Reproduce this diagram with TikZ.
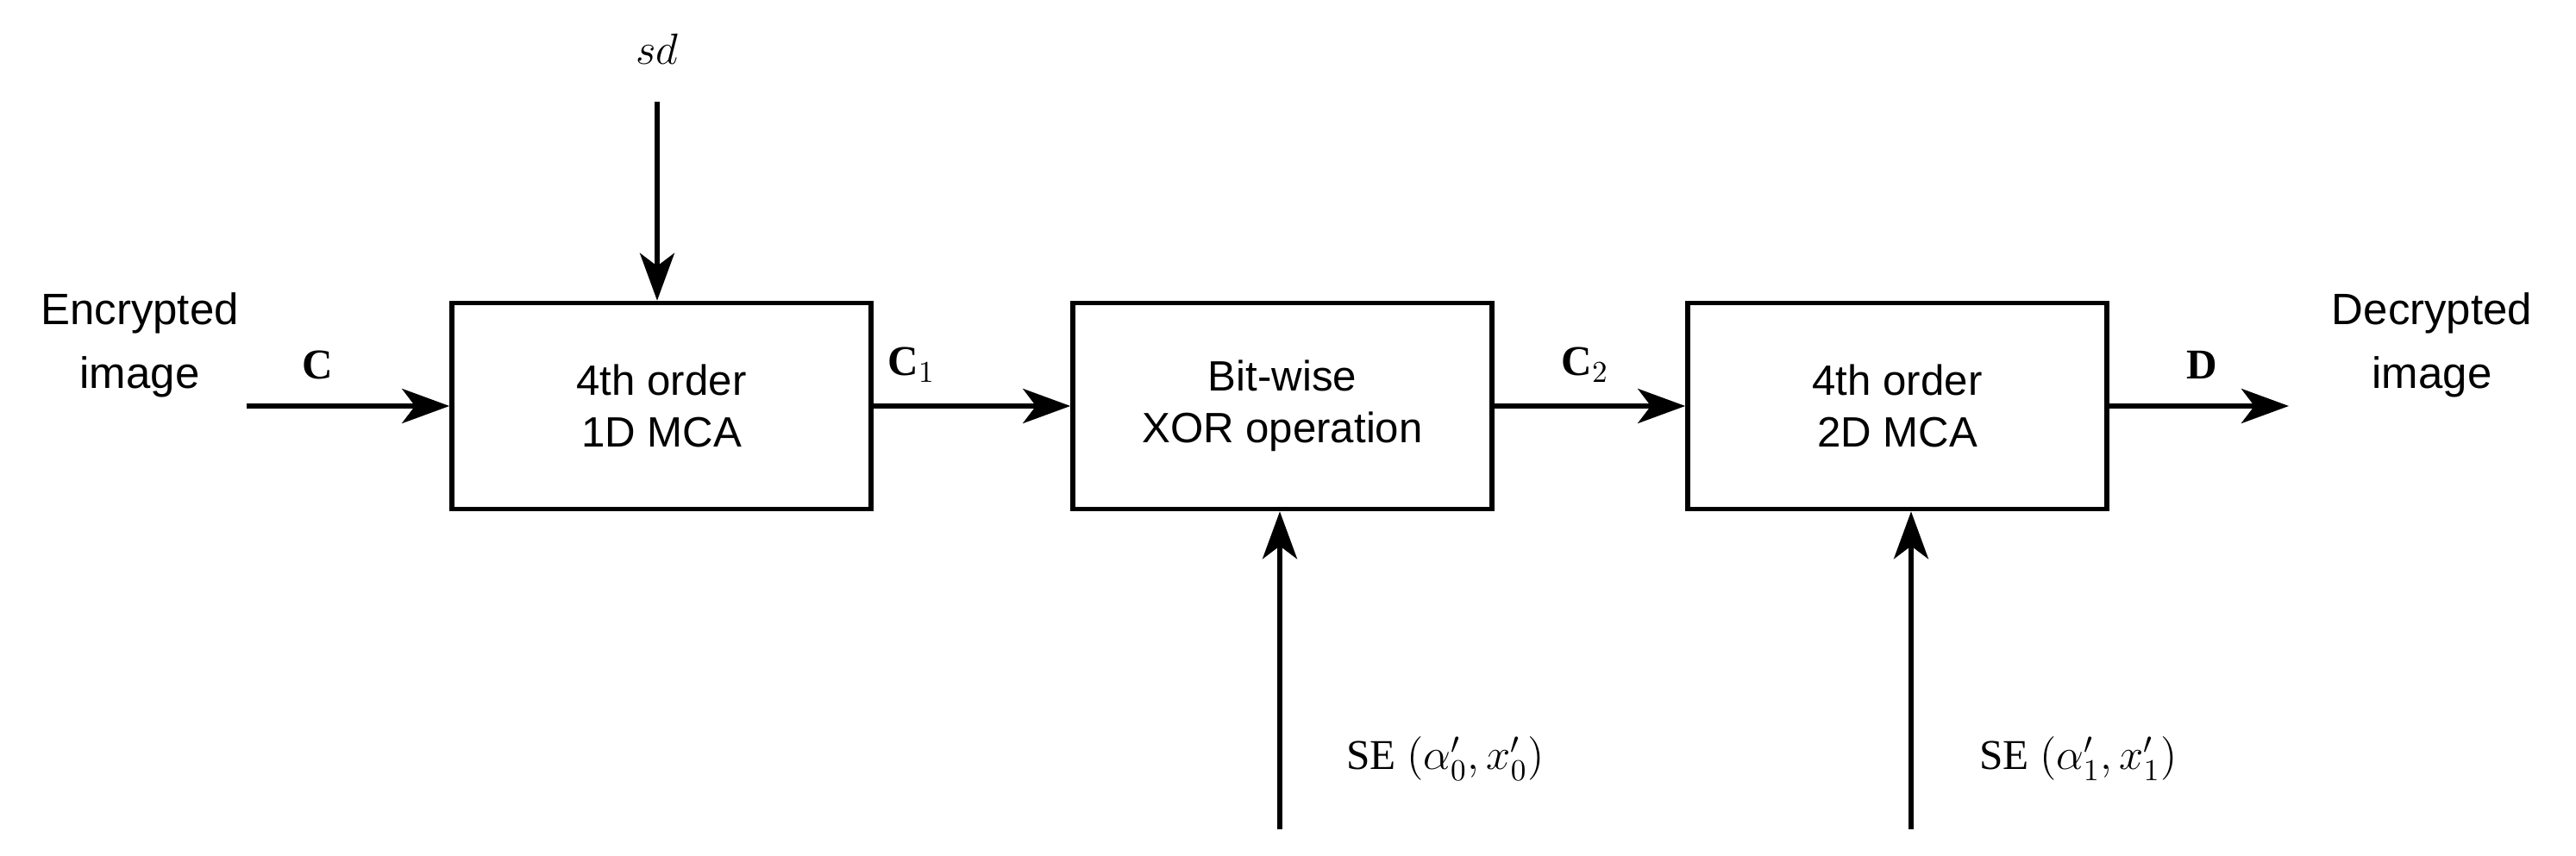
\documentclass[tikz,border=0pt]{standalone}
\usepackage{fontspec}
\setmainfont{Liberation Serif}
\newfontfamily\boxfont{Liberation Sans}
\usetikzlibrary{arrows.meta,positioning}
\tikzset{
	block/.style={draw, line width=1.6pt, minimum width=4.86cm, minimum height=2.39cm,
		align=center, font=\boxfont\fontsize{14}{17}\selectfont},
	flow/.style={line width=1.6pt, -{Stealth[length=5.5mm, width=4mm, inset=1.5mm]}},
	side/.style={align=center, font=\boxfont\fontsize{14.5}{21}\selectfont},
	lbl/.style={font=\fontsize{14}{16}\selectfont}
}
\begin{document}
\begin{tikzpicture}
	\useasboundingbox (0,0) rectangle (29.87,9.93);
	\node[block] (mca1) at (7.67,5.22) {4th order\\1D MCA};
	\node[block] (xor) at (14.87,5.22) {Bit-wise\\XOR operation};
	\node[block] (mca2) at (22.00,5.22) {4th order\\2D MCA};

	\node[side] (enc) at (1.62,5.93) {Encrypted\\image};
	\node[side] (dec) at (28.20,5.93) {Decrypted\\image};
	\coordinate (cin) at (2.86,5.22);
	\coordinate (cout) at (26.54,5.22);

	\node[lbl] (sd) at (7.62,9.36) {$sd$};
	\coordinate (sdtop) at (7.62,8.75);
	\coordinate (se0bot) at (14.84,0.31);
	\coordinate (se1bot) at (22.16,0.31);

	\draw[flow] (cin) -- (mca1);
	\draw[flow] (mca1) -- (xor);
	\draw[flow] (xor) -- (mca2);
	\draw[flow] (mca2) -- (cout);
	\draw[flow] (sdtop) -- (sdtop |- mca1.north);
	\draw[flow] (se0bot) -- (se0bot |- xor.south);
	\draw[flow] (se1bot) -- (se1bot |- mca2.south);

	\node[lbl] (c) at (3.68,5.70) {$\mathbf{C}$};
	\node[lbl] (c1) at (10.57,5.70) {$\mathbf{C}_1$};
	\node[lbl] (c2) at (18.38,5.70) {$\mathbf{C}_2$};
	\node[lbl] (d) at (25.53,5.70) {$\mathbf{D}$};
	\node[lbl] (se0) at (16.76,1.13) {SE $\left(\alpha_0',x_0'\right)$};
	\node[lbl] (se1) at (24.10,1.13) {SE $\left(\alpha_1',x_1'\right)$};
\end{tikzpicture}
\end{document}
